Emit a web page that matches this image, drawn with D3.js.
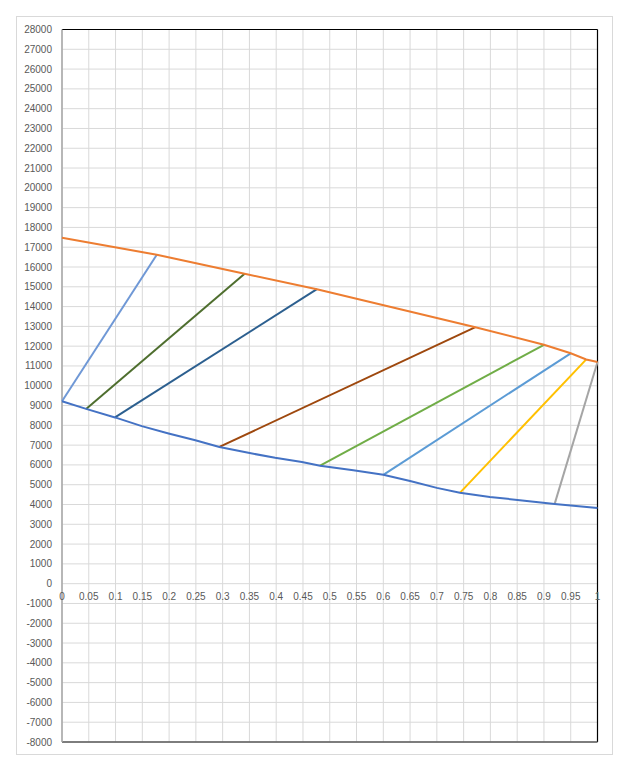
<!DOCTYPE html>
<html>
<head>
	<meta charset="utf-8">
	<title>Chart</title>
	<script src="https://d3js.org/d3.v7.min.js"></script>
	<style type="text/css">
		body{ margin:0; background:#fff; }
		text{ font-family:"Liberation Sans", Arial, sans-serif; font-size:10px; fill:#595959; }
	</style>
</head>
<body>
<script type="text/javascript">
	// upper (orange) envelope
	var upperX = [0, 0.177, 0.341, 0.476, 0.772, 0.900, 0.950, 0.979, 1.0]
	var upperY = [17480, 16620, 15660, 14880, 12960, 12070, 11640, 11330, 11200]

	// lower (blue) envelope
	var lowerX = [0, 0.045, 0.099, 0.149, 0.199, 0.249, 0.294, 0.348, 0.398, 0.448, 0.482, 0.544, 0.600, 0.650, 0.700, 0.743, 0.799, 0.855, 0.920, 1.0]
	var lowerY = [9220, 8830, 8400, 7960, 7590, 7250, 6910, 6610, 6360, 6150, 5960, 5730, 5500, 5190, 4840, 4590, 4380, 4220, 4030, 3820]

	// tie lines, lower end -> upper end
	var tieX0 = [0, 0.045, 0.099, 0.294, 0.482, 0.600, 0.743, 0.920]
	var tieY0 = [9220, 8830, 8400, 6910, 5960, 5500, 4590, 4030]
	var tieX1 = [0.177, 0.341, 0.476, 0.772, 0.900, 0.950, 0.979, 1.0]
	var tieY1 = [16620, 15660, 14880, 12960, 12070, 11640, 11330, 11200]
	var tieColors = ['#6f98d6', '#4e6e2e', '#2c5f8f', '#9e480e', '#70ad47', '#5b9bd5', '#ffc000', '#a5a5a5']

	var xTicks = d3.range(0, 21).map(function(i){ return i*0.05 })
	var yTicks = d3.range(-8, 29).map(function(i){ return i*1000 })

	var W = 626, H = 778
	var L = 62, R = 597.5, T = 29.5, B = 742

	var svg = d3.select("body").append("svg").attr('width',W).attr('height',H)

	// chart border
	svg.append('rect').attr('x',16.5).attr('y',16.5).attr('width',596).attr('height',738)
		.attr('fill','#fff').attr('stroke','#d9d9d9')

	var x = d3.scaleLinear().domain([0,1]).range([L,R])
	var y = d3.scaleLinear().domain([-8000,28000]).range([B,T])

	// grid
	svg.append('g').selectAll('line').data(xTicks).enter().append('line')
		.attr('x1',d=>x(d)).attr('x2',d=>x(d)).attr('y1',T).attr('y2',B)
		.attr('stroke','#d9d9d9').attr('stroke-width',1)
	svg.append('g').selectAll('line').data(yTicks).enter().append('line')
		.attr('x1',L).attr('x2',R).attr('y1',d=>y(d)).attr('y2',d=>y(d))
		.attr('stroke','#d9d9d9').attr('stroke-width',1)

	// plot frame
	svg.append('line').attr('x1',L).attr('x2',R).attr('y1',T).attr('y2',T).attr('stroke','#000').attr('stroke-width',1.2)
	svg.append('line').attr('x1',R).attr('x2',R).attr('y1',T).attr('y2',B).attr('stroke','#000').attr('stroke-width',1.2)
	svg.append('line').attr('x1',L).attr('x2',R).attr('y1',B).attr('y2',B).attr('stroke','#595959').attr('stroke-width',1.5)
	svg.append('line').attr('x1',L).attr('x2',L).attr('y1',T).attr('y2',B).attr('stroke','#a6a6a6').attr('stroke-width',1.5)

	// y tick labels
	svg.append('g').selectAll('text').data(yTicks).enter().append('text')
		.attr('x',52).attr('y',d=>y(d)).attr('dy','0.35em').attr('text-anchor','end')
		.text(d=>d)

	// x tick labels (just under zero line)
	svg.append('g').selectAll('text').data(xTicks).enter().append('text')
		.attr('x',d=>x(d)).attr('y',y(0)+16.5).attr('text-anchor','middle')
		.text(d=>d3.format('~g')(+d.toFixed(2)))

	var line = d3.line().x(d=>x(d[0])).y(d=>y(d[1]))

	// tie lines
	tieX0.forEach(function(v,i){
		svg.append('path').datum([[tieX0[i],tieY0[i]],[tieX1[i],tieY1[i]]])
			.attr('d',line).attr('fill','none').attr('stroke',tieColors[i]).attr('stroke-width',2)
	})

	svg.append('path').datum(lowerX.map((v,i)=>[v,lowerY[i]]))
		.attr('d',line).attr('fill','none').attr('stroke','#4472c4').attr('stroke-width',2)
	svg.append('path').datum(upperX.map((v,i)=>[v,upperY[i]]))
		.attr('d',line).attr('fill','none').attr('stroke','#ed7d31').attr('stroke-width',2)
</script>
</body>
</html>
